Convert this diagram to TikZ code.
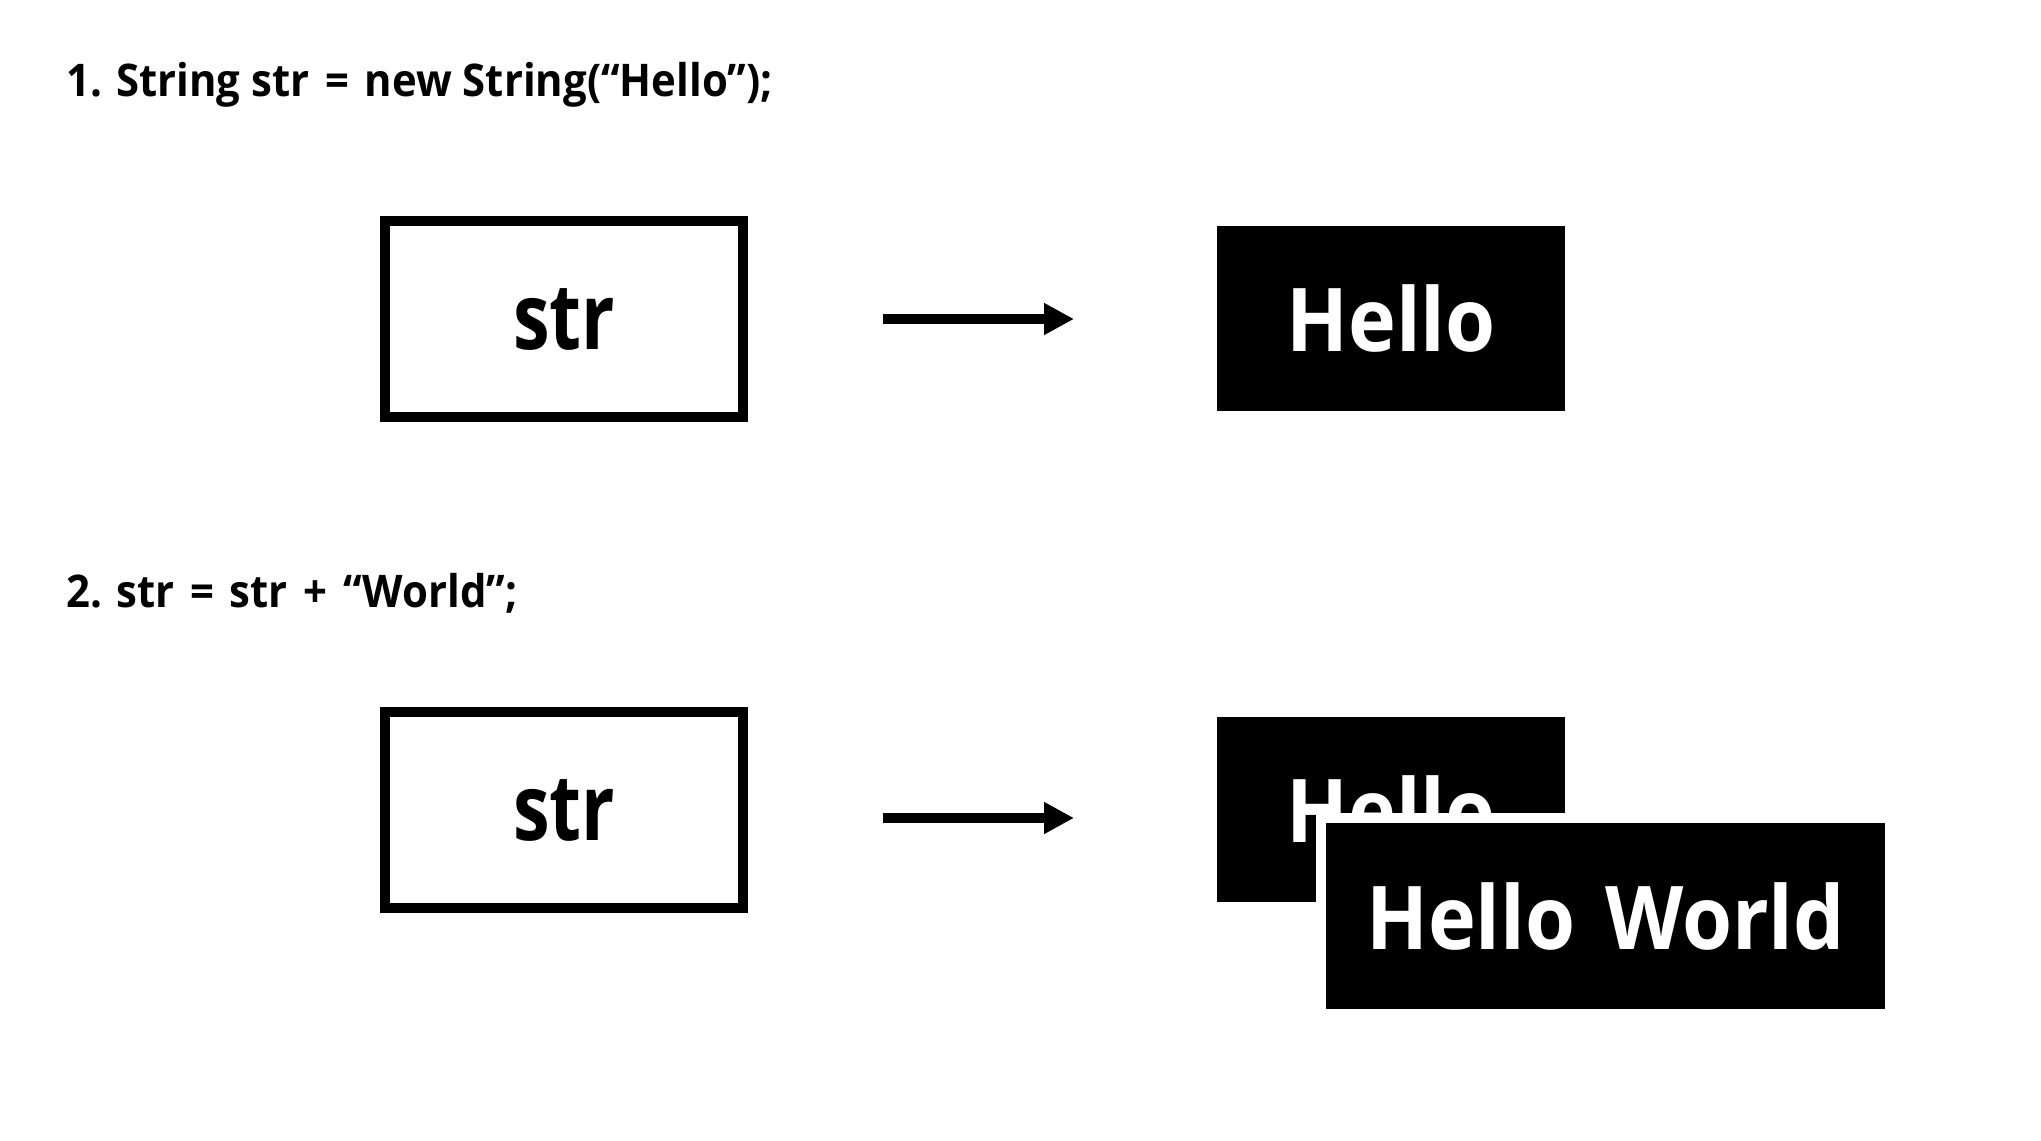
\documentclass[tikz,border=0pt]{standalone}
\usepackage{fontspec}
\setmainfont{Open Sans}
\newfontfamily\titlefont{Open Sans}[FakeStretch=0.93]
\newfontfamily\boxfont{Open Sans}[FakeStretch=0.92]
\newfontfamily\varfont{Open Sans}[FakeStretch=0.8]
\usetikzlibrary{arrows.meta}
\newcommand{\wsp}{\hspace{0.35em}}
\begin{document}
\begin{tikzpicture}[x=1pt,y=-1pt,
  title/.style={anchor=base west, inner sep=0pt, font=\titlefont\fontsize{45}{54}\selectfont\bfseries},
  varbox/.style={draw=black, line width=10pt, minimum width=358pt, minimum height=196pt, inner sep=0pt, font=\varfont\fontsize{92}{110}\selectfont\bfseries},
  objbox/.style={fill=black, text=white, inner sep=0pt, minimum width=348pt, minimum height=185pt, font=\boxfont\fontsize{88}{106}\selectfont\bfseries},
  newobj/.style={fill=black, draw=white, line width=10pt, text=white, inner sep=0pt, minimum width=569pt, minimum height=196pt, font=\boxfont\fontsize{88}{106}\selectfont\bfseries},
  arr/.style={line width=10pt, -{Triangle[length=30pt,width=30pt]}}]
\useasboundingbox[fill=white] (0,0) rectangle (2041,1140);
\node[title] (t1) at (66,96) {1. String str\wsp=\wsp new String(“Hello”);};
\node[title] (t2) at (66,607) {2. str\wsp=\wsp str\wsp+\wsp “World”;};
% step 1
\node[varbox] (v1) at (564,319) {str};
\node[objbox] (h1) at (1391,318.5) {Hello};
\coordinate (a1s) at (883,319);
\coordinate (a1e) at (1074,319);
\draw[arr] (a1s) -- (a1e);
% step 2
\node[varbox] (v2) at (564,810) {str};
\node[objbox] (h2) at (1391,809.5) {Hello};
\node[newobj] (hw) at (1605.5,916) {Hello\hspace{0.1em} World};
\coordinate (a2s) at (883,818);
\coordinate (a2e) at (1074,818);
\draw[arr] (a2s) -- (a2e);
\end{tikzpicture}
\end{document}
